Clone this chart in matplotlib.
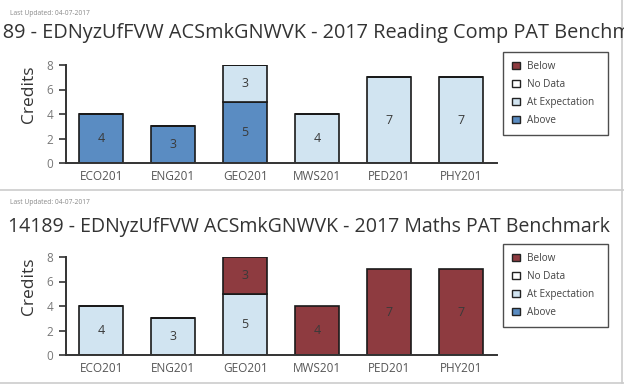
import matplotlib
matplotlib.use("Agg")
import matplotlib.pyplot as plt
from matplotlib.patches import Patch
from matplotlib.lines import Line2D

courses = ["ECO201", "ENG201", "GEO201", "MWS201", "PED201", "PHY201"]
series_names = ["Below", "No Data", "At Expectation", "Above"]
colors = {"Below": "#8e3b40", "No Data": "#ffffff",
          "At Expectation": "#d1e4f1", "Above": "#5a8cc2"}

reading_above = [4, 3, 5, 0, 0, 0]
reading_at = [0, 0, 3, 4, 7, 7]
reading_nodata = [0, 0, 0, 0, 0, 0]
reading_below = [0, 0, 0, 0, 0, 0]

maths_above = [0, 0, 0, 0, 0, 0]
maths_at = [4, 3, 5, 0, 0, 0]
maths_nodata = [0, 0, 0, 0, 0, 0]
maths_below = [0, 0, 3, 4, 7, 7]

title_top = "14189 - EDNyzUfFVW ACSmkGNWVK - 2017 Reading Comp PAT Benchmark"
title_bottom = "14189 - EDNyzUfFVW ACSmkGNWVK - 2017 Maths PAT Benchmark"
updated = "Last Updated: 04-07-2017"
yticks = [0, 2, 4, 6, 8]

W, H = 624, 385
plt.rcParams["font.family"] = ["Open Sans", "DejaVu Sans"]
fig = plt.figure(figsize=(W / 100, H / 100), dpi=100)

def fx(px):
    return px / W

def fy(py):
    return 1 - py / H

def draw_panel(ax, stacks):
    x = list(range(len(courses)))
    bottom = [0] * len(courses)
    for name in ["Above", "At Expectation", "No Data", "Below"]:
        vals = stacks[name]
        ax.bar(x, vals, width=0.61, bottom=bottom, color=colors[name],
               edgecolor="#1a1a1a", linewidth=1.2, zorder=2)
        for i, v in enumerate(vals):
            if v > 0:
                ax.text(i, bottom[i] + v / 2, str(v), ha="center", va="center",
                        fontsize=9, color="#3a3a3a", zorder=3)
        bottom = [b + v for b, v in zip(bottom, vals)]
    ax.set_xlim(-0.49, 5.5)
    ax.set_ylim(0, 8)
    ax.set_yticks(yticks)
    ax.set_xticks(x)
    ax.set_xticklabels(courses)
    for s in ["top", "right"]:
        ax.spines[s].set_visible(False)
    for s in ["left", "bottom"]:
        ax.spines[s].set_color("#333333")
        ax.spines[s].set_linewidth(1.4)
    ax.tick_params(axis="y", length=5, width=1.2, color="#333333",
                   labelsize=8.5, labelcolor="#777777", pad=4)
    ax.tick_params(axis="x", length=0, labelsize=8.5, labelcolor="#555555", pad=5)
    ax.set_ylabel("Credits", fontsize=12.5, color="#333333")
    ax.yaxis.set_label_coords(-0.068, 0.70)
    handles = [Patch(facecolor=colors[n], edgecolor="#222222", linewidth=1.0,
                     label=n) for n in series_names]
    return handles

ax1 = fig.add_axes([fx(66), fy(163), fx(497 - 66), (163 - 65) / H])
h = draw_panel(ax1, {"Above": reading_above, "At Expectation": reading_at,
                     "No Data": reading_nodata, "Below": reading_below})
ax2 = fig.add_axes([fx(66), fy(355), fx(497 - 66), (355 - 257) / H])
draw_panel(ax2, {"Above": maths_above, "At Expectation": maths_at,
                 "No Data": maths_nodata, "Below": maths_below})

for top in [52, 244]:
    leg = fig.legend(handles=h, loc="upper left",
                     bbox_to_anchor=(fx(503), fy(top), fx(608 - 503), 0),
                     mode="expand", prop={"size": 7.2},
                     frameon=True, fancybox=False,
                     handlelength=0.75, handleheight=0.75, handletextpad=0.75,
                     labelspacing=0.7, borderpad=0.9, borderaxespad=0)
    leg.get_frame().set_edgecolor("#222222")
    leg.get_frame().set_linewidth(1.0)
    for t in leg.get_texts():
        t.set_color("#444444")

# titles, sized so the bottom one spans 8..612 px as in the reference
t2 = fig.text(fx(8), fy(232), title_bottom, fontsize=15, color="#333333",
              ha="left", va="baseline")
fig.canvas.draw()
wpx = t2.get_window_extent().width
fs = 15 * 604 / wpx
t2.set_fontsize(fs)
fs_top = fs * 1.015
t1 = fig.text(fx(8), fy(38), title_top, fontsize=fs_top, color="#333333",
              ha="left", va="baseline")
probe = fig.text(0, 0, "141", fontsize=fs_top)
fig.canvas.draw()
shift = probe.get_window_extent().width
probe.remove()
t1.set_x(fx(3 - shift))

fig.text(fx(10), fy(15), updated, fontsize=4.8, color="#888888", ha="left",
         va="baseline")
fig.text(fx(10), fy(204), updated, fontsize=4.8, color="#888888", ha="left",
         va="baseline")

fig.add_artist(Line2D([0, 1], [fy(190), fy(190)], color="#cccccc", lw=1.2))
fig.add_artist(Line2D([0, 1], [fy(383), fy(383)], color="#cccccc", lw=1.2))
fig.add_artist(Line2D([fx(622), fx(622)], [fy(383), 1], color="#cccccc", lw=1.2))

fig.savefig("out.png", dpi=100)
